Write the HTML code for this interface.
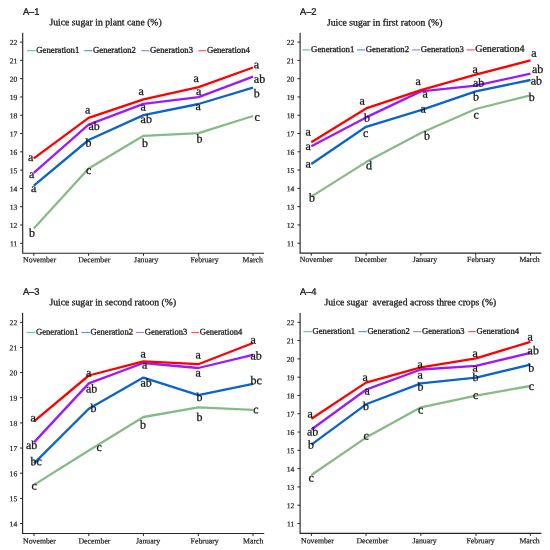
<!DOCTYPE html>
<html><head><meta charset="utf-8"><title>Juice sugar</title>
<style>html,body{margin:0;padding:0;background:#fff}svg{display:block}</style></head>
<body>
<svg width="550" height="550" viewBox="0 0 550 550" text-rendering="geometricPrecision">
<rect width="550" height="550" fill="#fff"/>
<g stroke="#262626" stroke-width="1.15" fill="none">
<path d="M22.7 32.7V253.2H264"/>
<path d="M20.10 42.10H22.7M20.10 60.39H22.7M20.10 78.68H22.7M20.10 96.97H22.7M20.10 115.26H22.7M20.10 133.55H22.7M20.10 151.85H22.7M20.10 170.14H22.7M20.10 188.43H22.7M20.10 206.72H22.7M20.10 225.01H22.7M20.10 243.30H22.7M33.8 253.2v2.6M88.6 253.2v2.6M143.5 253.2v2.6M198.6 253.2v2.6M253.0 253.2v2.6" stroke-width="1"/>
</g>
<g font-family="'Liberation Serif', serif" font-size="8" fill="#1a1a1a" stroke="#1a1a1a" stroke-width="0.3">
<text transform="matrix(1 0.0005 0 1 17.30 45.10)" text-anchor="end" font-size="7.6" stroke-width="0.2">22</text>
<text transform="matrix(1 0.0005 0 1 17.30 63.39)" text-anchor="end" font-size="7.6" stroke-width="0.2">21</text>
<text transform="matrix(1 0.0005 0 1 17.30 81.68)" text-anchor="end" font-size="7.6" stroke-width="0.2">20</text>
<text transform="matrix(1 0.0005 0 1 17.30 99.97)" text-anchor="end" font-size="7.6" stroke-width="0.2">19</text>
<text transform="matrix(1 0.0005 0 1 17.30 118.26)" text-anchor="end" font-size="7.6" stroke-width="0.2">18</text>
<text transform="matrix(1 0.0005 0 1 17.30 136.55)" text-anchor="end" font-size="7.6" stroke-width="0.2">17</text>
<text transform="matrix(1 0.0005 0 1 17.30 154.85)" text-anchor="end" font-size="7.6" stroke-width="0.2">16</text>
<text transform="matrix(1 0.0005 0 1 17.30 173.14)" text-anchor="end" font-size="7.6" stroke-width="0.2">15</text>
<text transform="matrix(1 0.0005 0 1 17.30 191.43)" text-anchor="end" font-size="7.6" stroke-width="0.2">14</text>
<text transform="matrix(1 0.0005 0 1 17.30 209.72)" text-anchor="end" font-size="7.6" stroke-width="0.2">13</text>
<text transform="matrix(1 0.0005 0 1 17.30 228.01)" text-anchor="end" font-size="7.6" stroke-width="0.2">12</text>
<text transform="matrix(1 0.0005 0 1 17.30 246.30)" text-anchor="end" font-size="7.6" stroke-width="0.2">11</text>
<text transform="matrix(1 0.0005 0 1 23.10 262.30)" font-size="7.8" stroke-width="0.2">November</text>
<text transform="matrix(1 0.0005 0 1 78.20 262.30)" font-size="7.8" stroke-width="0.2">December</text>
<text transform="matrix(1 0.0005 0 1 134.10 262.30)" font-size="7.8" stroke-width="0.2">January</text>
<text transform="matrix(1 0.0005 0 1 190.40 262.30)" font-size="7.8" stroke-width="0.2">February</text>
<text transform="matrix(1 0.0005 0 1 242.50 262.30)" font-size="7.8" stroke-width="0.2">March</text>
</g>
<polyline points="33.8,228.5 88.6,168.4 143.5,135.8 198.6,133.2 253.0,116" fill="none" stroke="#86bb86" stroke-width="2.3" stroke-linejoin="round"/>
<polyline points="33.8,185.7 88.6,140 143.5,115.1 198.6,104.0 253.0,87.6" fill="none" stroke="#0b64cc" stroke-width="2.3" stroke-linejoin="round"/>
<polyline points="33.8,172.9 88.6,124.6 143.5,103.8 198.6,97.1 253.0,76.6" fill="none" stroke="#9a1aff" stroke-width="2.3" stroke-linejoin="round"/>
<polyline points="33.8,158.4 88.6,117.8 143.5,99.4 198.6,87.1 253.0,67.5" fill="none" stroke="#ff0000" stroke-width="2.3" stroke-linejoin="round"/>
<g font-family="'Liberation Serif', serif" fill="#1a1a1a" stroke-width="0.3">
<line x1="27.0" x2="35.6" y1="50.7" y2="50.7" stroke="#5ed197" stroke-width="1.2"/>
<text transform="matrix(1 0.0005 0 1 36.30 52.80)" font-size="8.7" stroke="#1a1a1a">Generation1</text>
<line x1="84.1" x2="92.3" y1="50.7" y2="50.7" stroke="#4f9ae6" stroke-width="1.2"/>
<text transform="matrix(1 0.0005 0 1 93.00 52.80)" font-size="8.7" stroke="#1a1a1a">Generation2</text>
<line x1="141.3" x2="149.4" y1="50.7" y2="50.7" stroke="#aa7fe3" stroke-width="1.2"/>
<text transform="matrix(1 0.0005 0 1 150.10 52.80)" font-size="8.7" stroke="#1a1a1a">Generation3</text>
<line x1="198.4" x2="206.2" y1="50.7" y2="50.7" stroke="#ff5555" stroke-width="1.2"/>
<text transform="matrix(1 0.0005 0 1 206.90 52.80)" font-size="8.7" stroke="#1a1a1a">Generation4</text>
</g>
<text transform="matrix(1 0.0005 0 1 49.50 25.30)" font-family="'Liberation Serif', serif" font-size="9.7" fill="#1a1a1a" stroke="#1a1a1a" stroke-width="0.3" xml:space="preserve">Juice sugar in plant cane (%)</text>
<text transform="matrix(1 0.0005 0 1 22.90 14.70)" font-family="'Liberation Sans', sans-serif" font-size="9.3" fill="#1a1a1a" stroke="#1a1a1a" stroke-width="0.3">A–1</text>
<g font-family="'Liberation Serif', serif" font-size="12" fill="#1a1a1a" stroke="#1a1a1a" stroke-width="0.3">
<text transform="matrix(1 0.0005 0 1 28.00 161.00)">a</text>
<text transform="matrix(1 0.0005 0 1 29.00 178.00)">a</text>
<text transform="matrix(1 0.0005 0 1 31.00 192.00)">a</text>
<text transform="matrix(1 0.0005 0 1 29.10 236.80)">b</text>
<text transform="matrix(1 0.0005 0 1 85.00 113.40)">a</text>
<text transform="matrix(1 0.0005 0 1 88.40 130.00)">ab</text>
<text transform="matrix(1 0.0005 0 1 85.60 146.40)">b</text>
<text transform="matrix(1 0.0005 0 1 86.00 174.00)">c</text>
<text transform="matrix(1 0.0005 0 1 138.60 95.00)">a</text>
<text transform="matrix(1 0.0005 0 1 140.60 110.40)">a</text>
<text transform="matrix(1 0.0005 0 1 140.60 123.00)">ab</text>
<text transform="matrix(1 0.0005 0 1 142.00 147.00)">b</text>
<text transform="matrix(1 0.0005 0 1 193.40 82.00)">a</text>
<text transform="matrix(1 0.0005 0 1 196.00 95.00)">a</text>
<text transform="matrix(1 0.0005 0 1 195.60 110.00)">a</text>
<text transform="matrix(1 0.0005 0 1 196.60 142.60)">b</text>
<text transform="matrix(1 0.0005 0 1 253.80 68.30)">a</text>
<text transform="matrix(1 0.0005 0 1 253.80 82.80)">ab</text>
<text transform="matrix(1 0.0005 0 1 253.80 97.20)">b</text>
<text transform="matrix(1 0.0005 0 1 254.50 120.70)">c</text>
</g>
<g stroke="#262626" stroke-width="1.15" fill="none">
<path d="M300.1 32.7V253.1H541.3"/>
<path d="M297.50 42.10H300.1M297.50 60.38H300.1M297.50 78.66H300.1M297.50 96.95H300.1M297.50 115.23H300.1M297.50 133.51H300.1M297.50 151.79H300.1M297.50 170.07H300.1M297.50 188.35H300.1M297.50 206.64H300.1M297.50 224.92H300.1M297.50 243.20H300.1M311.3 253.1v2.6M366.1 253.1v2.6M420.9 253.1v2.6M475.7 253.1v2.6M530.5 253.1v2.6" stroke-width="1"/>
</g>
<g font-family="'Liberation Serif', serif" font-size="8" fill="#1a1a1a" stroke="#1a1a1a" stroke-width="0.3">
<text transform="matrix(1 0.0005 0 1 294.40 45.10)" text-anchor="end" font-size="7.6" stroke-width="0.2">22</text>
<text transform="matrix(1 0.0005 0 1 294.40 63.38)" text-anchor="end" font-size="7.6" stroke-width="0.2">21</text>
<text transform="matrix(1 0.0005 0 1 294.40 81.66)" text-anchor="end" font-size="7.6" stroke-width="0.2">20</text>
<text transform="matrix(1 0.0005 0 1 294.40 99.95)" text-anchor="end" font-size="7.6" stroke-width="0.2">19</text>
<text transform="matrix(1 0.0005 0 1 294.40 118.23)" text-anchor="end" font-size="7.6" stroke-width="0.2">18</text>
<text transform="matrix(1 0.0005 0 1 294.40 136.51)" text-anchor="end" font-size="7.6" stroke-width="0.2">17</text>
<text transform="matrix(1 0.0005 0 1 294.40 154.79)" text-anchor="end" font-size="7.6" stroke-width="0.2">16</text>
<text transform="matrix(1 0.0005 0 1 294.40 173.07)" text-anchor="end" font-size="7.6" stroke-width="0.2">15</text>
<text transform="matrix(1 0.0005 0 1 294.40 191.35)" text-anchor="end" font-size="7.6" stroke-width="0.2">14</text>
<text transform="matrix(1 0.0005 0 1 294.40 209.64)" text-anchor="end" font-size="7.6" stroke-width="0.2">13</text>
<text transform="matrix(1 0.0005 0 1 294.40 227.92)" text-anchor="end" font-size="7.6" stroke-width="0.2">12</text>
<text transform="matrix(1 0.0005 0 1 294.40 246.20)" text-anchor="end" font-size="7.6" stroke-width="0.2">11</text>
<text transform="matrix(1 0.0005 0 1 299.80 262.00)" font-size="7.8" stroke-width="0.2">November</text>
<text transform="matrix(1 0.0005 0 1 354.70 262.00)" font-size="7.8" stroke-width="0.2">December</text>
<text transform="matrix(1 0.0005 0 1 412.80 262.00)" font-size="7.8" stroke-width="0.2">January</text>
<text transform="matrix(1 0.0005 0 1 467.10 262.00)" font-size="7.8" stroke-width="0.2">February</text>
<text transform="matrix(1 0.0005 0 1 519.40 262.00)" font-size="7.8" stroke-width="0.2">March</text>
</g>
<polyline points="311.3,196.6 366.1,162.1 420.9,133 475.7,109 530.5,95.3" fill="none" stroke="#86bb86" stroke-width="2.3" stroke-linejoin="round"/>
<polyline points="311.3,164 366.1,126.8 420.9,110.2 475.7,91.4 530.5,80" fill="none" stroke="#0b64cc" stroke-width="2.3" stroke-linejoin="round"/>
<polyline points="311.3,146.3 366.1,117.4 420.9,91.4 475.7,85.6 530.5,73.7" fill="none" stroke="#9a1aff" stroke-width="2.3" stroke-linejoin="round"/>
<polyline points="311.3,142.2 366.1,108.4 420.9,90.2 475.7,74.7 530.5,60.4" fill="none" stroke="#ff0000" stroke-width="2.3" stroke-linejoin="round"/>
<g font-family="'Liberation Serif', serif" fill="#1a1a1a" stroke-width="0.3">
<line x1="302.3" x2="310.4" y1="49.9" y2="49.9" stroke="#5ed197" stroke-width="1.2"/>
<text transform="matrix(1 0.0005 0 1 311.10 52.00)" font-size="8.75" stroke="#1a1a1a">Generation1</text>
<line x1="357" x2="365.1" y1="49.9" y2="49.9" stroke="#4f9ae6" stroke-width="1.2"/>
<text transform="matrix(1 0.0005 0 1 365.80 52.00)" font-size="8.75" stroke="#1a1a1a">Generation2</text>
<line x1="411.8" x2="420.0" y1="49.9" y2="49.9" stroke="#aa7fe3" stroke-width="1.2"/>
<text transform="matrix(1 0.0005 0 1 420.70 52.00)" font-size="8.75" stroke="#1a1a1a">Generation3</text>
<line x1="466.6" x2="474.5" y1="49.9" y2="49.9" stroke="#ff5555" stroke-width="1.2"/>
<text transform="matrix(1 0.0005 0 1 475.20 51.80)" font-size="10" stroke="#1a1a1a">Generation4</text>
</g>
<text transform="matrix(1 0.0005 0 1 327.00 25.40)" font-family="'Liberation Serif', serif" font-size="9.7" fill="#1a1a1a" stroke="#1a1a1a" stroke-width="0.3" xml:space="preserve">Juice sugar in first ratoon (%)</text>
<text transform="matrix(1 0.0005 0 1 300.00 14.70)" font-family="'Liberation Sans', sans-serif" font-size="9.3" fill="#1a1a1a" stroke="#1a1a1a" stroke-width="0.3">A–2</text>
<g font-family="'Liberation Serif', serif" font-size="12" fill="#1a1a1a" stroke="#1a1a1a" stroke-width="0.3">
<text transform="matrix(1 0.0005 0 1 305.40 135.60)">a</text>
<text transform="matrix(1 0.0005 0 1 305.40 150.00)">a</text>
<text transform="matrix(1 0.0005 0 1 305.40 167.60)">a</text>
<text transform="matrix(1 0.0005 0 1 309.00 201.40)">b</text>
<text transform="matrix(1 0.0005 0 1 359.60 104.60)">a</text>
<text transform="matrix(1 0.0005 0 1 364.00 121.40)">b</text>
<text transform="matrix(1 0.0005 0 1 363.00 137.00)">c</text>
<text transform="matrix(1 0.0005 0 1 366.00 169.20)">d</text>
<text transform="matrix(1 0.0005 0 1 415.60 85.00)">a</text>
<text transform="matrix(1 0.0005 0 1 422.60 97.60)">a</text>
<text transform="matrix(1 0.0005 0 1 420.40 112.40)">a</text>
<text transform="matrix(1 0.0005 0 1 424.00 139.40)">b</text>
<text transform="matrix(1 0.0005 0 1 472.60 73.00)">a</text>
<text transform="matrix(1 0.0005 0 1 473.00 86.40)">ab</text>
<text transform="matrix(1 0.0005 0 1 473.00 100.60)">b</text>
<text transform="matrix(1 0.0005 0 1 473.60 118.40)">c</text>
<text transform="matrix(1 0.0005 0 1 531.20 56.80)">a</text>
<text transform="matrix(1 0.0005 0 1 532.00 72.90)">ab</text>
<text transform="matrix(1 0.0005 0 1 530.70 84.60)">ab</text>
<text transform="matrix(1 0.0005 0 1 528.70 101.00)">b</text>
</g>
<g stroke="#262626" stroke-width="1.15" fill="none">
<path d="M22.6 312.8V533.5H264.2"/>
<path d="M20.00 322.30H22.6M20.00 347.45H22.6M20.00 372.60H22.6M20.00 397.75H22.6M20.00 422.90H22.6M20.00 448.05H22.6M20.00 473.20H22.6M20.00 498.35H22.6M20.00 523.50H22.6M34 533.5v2.6M88.8 533.5v2.6M143.4 533.5v2.6M198.3 533.5v2.6M253 533.5v2.6" stroke-width="1"/>
</g>
<g font-family="'Liberation Serif', serif" font-size="8" fill="#1a1a1a" stroke="#1a1a1a" stroke-width="0.3">
<text transform="matrix(1 0.0005 0 1 17.20 325.30)" text-anchor="end" font-size="7.6" stroke-width="0.2">22</text>
<text transform="matrix(1 0.0005 0 1 17.20 350.45)" text-anchor="end" font-size="7.6" stroke-width="0.2">21</text>
<text transform="matrix(1 0.0005 0 1 17.20 375.60)" text-anchor="end" font-size="7.6" stroke-width="0.2">20</text>
<text transform="matrix(1 0.0005 0 1 17.20 400.75)" text-anchor="end" font-size="7.6" stroke-width="0.2">19</text>
<text transform="matrix(1 0.0005 0 1 17.20 425.90)" text-anchor="end" font-size="7.6" stroke-width="0.2">18</text>
<text transform="matrix(1 0.0005 0 1 17.20 451.05)" text-anchor="end" font-size="7.6" stroke-width="0.2">17</text>
<text transform="matrix(1 0.0005 0 1 17.20 476.20)" text-anchor="end" font-size="7.6" stroke-width="0.2">16</text>
<text transform="matrix(1 0.0005 0 1 17.20 501.35)" text-anchor="end" font-size="7.6" stroke-width="0.2">15</text>
<text transform="matrix(1 0.0005 0 1 17.20 526.50)" text-anchor="end" font-size="7.6" stroke-width="0.2">14</text>
<text transform="matrix(1 0.0005 0 1 23.00 543.60)" font-size="7.8" stroke-width="0.2">November</text>
<text transform="matrix(1 0.0005 0 1 78.40 543.60)" font-size="7.8" stroke-width="0.2">December</text>
<text transform="matrix(1 0.0005 0 1 135.90 543.60)" font-size="7.8" stroke-width="0.2">January</text>
<text transform="matrix(1 0.0005 0 1 190.60 543.60)" font-size="7.8" stroke-width="0.2">February</text>
<text transform="matrix(1 0.0005 0 1 243.00 543.60)" font-size="7.8" stroke-width="0.2">March</text>
</g>
<polyline points="34,484.9 88.8,450.5 143.4,417 198.3,407.3 253,409.8" fill="none" stroke="#86bb86" stroke-width="2.3" stroke-linejoin="round"/>
<polyline points="34,463.4 88.8,408.7 143.4,377.6 198.3,395.2 253,383.8" fill="none" stroke="#0b64cc" stroke-width="2.3" stroke-linejoin="round"/>
<polyline points="34,442.4 88.8,383.4 143.4,363 198.3,368 253,354.8" fill="none" stroke="#9a1aff" stroke-width="2.3" stroke-linejoin="round"/>
<polyline points="34,421.4 88.8,375.5 143.4,361.4 198.3,364.2 253,343" fill="none" stroke="#ff0000" stroke-width="2.3" stroke-linejoin="round"/>
<g font-family="'Liberation Serif', serif" fill="#1a1a1a" stroke-width="0.3">
<line x1="26.4" x2="35.3" y1="332.5" y2="332.5" stroke="#5ed197" stroke-width="1.2"/>
<text transform="matrix(1 0.0005 0 1 36.00 334.60)" font-size="8.6" stroke="#1a1a1a">Generation1</text>
<line x1="81.6" x2="89.8" y1="332.5" y2="332.5" stroke="#4f9ae6" stroke-width="1.2"/>
<text transform="matrix(1 0.0005 0 1 90.50 334.60)" font-size="8.6" stroke="#1a1a1a">Generation2</text>
<line x1="136" x2="144.1" y1="332.5" y2="332.5" stroke="#aa7fe3" stroke-width="1.2"/>
<text transform="matrix(1 0.0005 0 1 144.80 334.60)" font-size="8.6" stroke="#1a1a1a">Generation3</text>
<line x1="191.3" x2="199.1" y1="332.5" y2="332.5" stroke="#ff5555" stroke-width="1.2"/>
<text transform="matrix(1 0.0005 0 1 199.80 334.60)" font-size="8.6" stroke="#1a1a1a">Generation4</text>
</g>
<text transform="matrix(1 0.0005 0 1 49.40 305.20)" font-family="'Liberation Serif', serif" font-size="9.7" fill="#1a1a1a" stroke="#1a1a1a" stroke-width="0.3" xml:space="preserve">Juice sugar in second ratoon (%)</text>
<text transform="matrix(1 0.0005 0 1 22.90 294.70)" font-family="'Liberation Sans', sans-serif" font-size="9.3" fill="#1a1a1a" stroke="#1a1a1a" stroke-width="0.3">A–3</text>
<g font-family="'Liberation Serif', serif" font-size="12" fill="#1a1a1a" stroke="#1a1a1a" stroke-width="0.3">
<text transform="matrix(1 0.0005 0 1 30.60 421.60)">a</text>
<text transform="matrix(1 0.0005 0 1 26.00 449.00)">ab</text>
<text transform="matrix(1 0.0005 0 1 30.60 465.20)">bc</text>
<text transform="matrix(1 0.0005 0 1 31.40 489.40)">c</text>
<text transform="matrix(1 0.0005 0 1 86.00 376.50)">a</text>
<text transform="matrix(1 0.0005 0 1 86.00 392.50)">ab</text>
<text transform="matrix(1 0.0005 0 1 90.60 411.90)">b</text>
<text transform="matrix(1 0.0005 0 1 96.40 451.00)">c</text>
<text transform="matrix(1 0.0005 0 1 140.40 357.40)">a</text>
<text transform="matrix(1 0.0005 0 1 142.00 368.40)">a</text>
<text transform="matrix(1 0.0005 0 1 140.40 386.60)">ab</text>
<text transform="matrix(1 0.0005 0 1 140.00 428.40)">b</text>
<text transform="matrix(1 0.0005 0 1 195.60 358.60)">a</text>
<text transform="matrix(1 0.0005 0 1 195.60 376.40)">a</text>
<text transform="matrix(1 0.0005 0 1 196.60 401.00)">b</text>
<text transform="matrix(1 0.0005 0 1 196.60 421.00)">b</text>
<text transform="matrix(1 0.0005 0 1 250.50 343.60)">a</text>
<text transform="matrix(1 0.0005 0 1 250.50 359.50)">ab</text>
<text transform="matrix(1 0.0005 0 1 250.50 384.20)">bc</text>
<text transform="matrix(1 0.0005 0 1 253.20 413.30)">c</text>
</g>
<g stroke="#262626" stroke-width="1.15" fill="none">
<path d="M300.1 313V533.3H541.3"/>
<path d="M297.50 322.30H300.1M297.50 340.59H300.1M297.50 358.88H300.1M297.50 377.17H300.1M297.50 395.46H300.1M297.50 413.75H300.1M297.50 432.05H300.1M297.50 450.34H300.1M297.50 468.63H300.1M297.50 486.92H300.1M297.50 505.21H300.1M297.50 523.50H300.1M311.4 533.3v2.6M366 533.3v2.6M420.9 533.3v2.6M476.0 533.3v2.6M530.4 533.3v2.6" stroke-width="1"/>
</g>
<g font-family="'Liberation Serif', serif" font-size="8" fill="#1a1a1a" stroke="#1a1a1a" stroke-width="0.3">
<text transform="matrix(1 0.0005 0 1 294.40 325.30)" text-anchor="end" font-size="7.6" stroke-width="0.2">22</text>
<text transform="matrix(1 0.0005 0 1 294.40 343.59)" text-anchor="end" font-size="7.6" stroke-width="0.2">21</text>
<text transform="matrix(1 0.0005 0 1 294.40 361.88)" text-anchor="end" font-size="7.6" stroke-width="0.2">20</text>
<text transform="matrix(1 0.0005 0 1 294.40 380.17)" text-anchor="end" font-size="7.6" stroke-width="0.2">19</text>
<text transform="matrix(1 0.0005 0 1 294.40 398.46)" text-anchor="end" font-size="7.6" stroke-width="0.2">18</text>
<text transform="matrix(1 0.0005 0 1 294.40 416.75)" text-anchor="end" font-size="7.6" stroke-width="0.2">17</text>
<text transform="matrix(1 0.0005 0 1 294.40 435.05)" text-anchor="end" font-size="7.6" stroke-width="0.2">16</text>
<text transform="matrix(1 0.0005 0 1 294.40 453.34)" text-anchor="end" font-size="7.6" stroke-width="0.2">15</text>
<text transform="matrix(1 0.0005 0 1 294.40 471.63)" text-anchor="end" font-size="7.6" stroke-width="0.2">14</text>
<text transform="matrix(1 0.0005 0 1 294.40 489.92)" text-anchor="end" font-size="7.6" stroke-width="0.2">13</text>
<text transform="matrix(1 0.0005 0 1 294.40 508.21)" text-anchor="end" font-size="7.6" stroke-width="0.2">12</text>
<text transform="matrix(1 0.0005 0 1 294.40 526.50)" text-anchor="end" font-size="7.6" stroke-width="0.2">11</text>
<text transform="matrix(1 0.0005 0 1 301.00 543.30)" font-size="7.8" stroke-width="0.2">November</text>
<text transform="matrix(1 0.0005 0 1 356.40 543.30)" font-size="7.8" stroke-width="0.2">December</text>
<text transform="matrix(1 0.0005 0 1 412.40 543.30)" font-size="7.8" stroke-width="0.2">January</text>
<text transform="matrix(1 0.0005 0 1 466.50 543.30)" font-size="7.8" stroke-width="0.2">February</text>
<text transform="matrix(1 0.0005 0 1 519.40 543.30)" font-size="7.8" stroke-width="0.2">March</text>
</g>
<polyline points="311.4,475 366,437.6 420.9,407.3 476.0,395.6 530.4,386" fill="none" stroke="#86bb86" stroke-width="2.3" stroke-linejoin="round"/>
<polyline points="311.4,444.7 366,404.3 420.9,383.4 476.0,377.7 530.4,364.6" fill="none" stroke="#0b64cc" stroke-width="2.3" stroke-linejoin="round"/>
<polyline points="311.4,429.5 366,389.7 420.9,369.5 476.0,365.9 530.4,352.8" fill="none" stroke="#9a1aff" stroke-width="2.3" stroke-linejoin="round"/>
<polyline points="311.4,418.7 366,382.6 420.9,367.4 476.0,358.3 530.4,341.9" fill="none" stroke="#ff0000" stroke-width="2.3" stroke-linejoin="round"/>
<g font-family="'Liberation Serif', serif" fill="#1a1a1a" stroke-width="0.3">
<line x1="303.4" x2="311.9" y1="331.6" y2="331.6" stroke="#5ed197" stroke-width="1.2"/>
<text transform="matrix(1 0.0005 0 1 312.60 333.70)" font-size="8.6" stroke="#1a1a1a">Generation1</text>
<line x1="358.4" x2="366.7" y1="331.6" y2="331.6" stroke="#4f9ae6" stroke-width="1.2"/>
<text transform="matrix(1 0.0005 0 1 367.40 333.70)" font-size="8.6" stroke="#1a1a1a">Generation2</text>
<line x1="413.2" x2="421.3" y1="331.6" y2="331.6" stroke="#aa7fe3" stroke-width="1.2"/>
<text transform="matrix(1 0.0005 0 1 422.00 333.70)" font-size="8.6" stroke="#1a1a1a">Generation3</text>
<line x1="468.2" x2="475.8" y1="331.6" y2="331.6" stroke="#ff5555" stroke-width="1.2"/>
<text transform="matrix(1 0.0005 0 1 476.50 333.70)" font-size="8.6" stroke="#1a1a1a">Generation4</text>
</g>
<text transform="matrix(1 0.0005 0 1 324.40 305.20)" font-family="'Liberation Serif', serif" font-size="9.7" fill="#1a1a1a" stroke="#1a1a1a" stroke-width="0.3" xml:space="preserve">Juice sugar  averaged across three crops (%)</text>
<text transform="matrix(1 0.0005 0 1 300.00 294.70)" font-family="'Liberation Sans', sans-serif" font-size="9.3" fill="#1a1a1a" stroke="#1a1a1a" stroke-width="0.3">A–4</text>
<g font-family="'Liberation Serif', serif" font-size="12" fill="#1a1a1a" stroke="#1a1a1a" stroke-width="0.3">
<text transform="matrix(1 0.0005 0 1 307.60 417.60)">a</text>
<text transform="matrix(1 0.0005 0 1 307.00 435.40)">ab</text>
<text transform="matrix(1 0.0005 0 1 308.00 448.60)">b</text>
<text transform="matrix(1 0.0005 0 1 308.60 481.40)">c</text>
<text transform="matrix(1 0.0005 0 1 362.60 381.00)">a</text>
<text transform="matrix(1 0.0005 0 1 364.60 394.40)">a</text>
<text transform="matrix(1 0.0005 0 1 363.00 410.00)">b</text>
<text transform="matrix(1 0.0005 0 1 363.60 439.40)">c</text>
<text transform="matrix(1 0.0005 0 1 417.60 368.00)">a</text>
<text transform="matrix(1 0.0005 0 1 417.60 378.60)">a</text>
<text transform="matrix(1 0.0005 0 1 417.60 390.60)">b</text>
<text transform="matrix(1 0.0005 0 1 418.00 413.60)">c</text>
<text transform="matrix(1 0.0005 0 1 472.60 357.00)">a</text>
<text transform="matrix(1 0.0005 0 1 472.60 371.60)">a</text>
<text transform="matrix(1 0.0005 0 1 472.60 381.00)">b</text>
<text transform="matrix(1 0.0005 0 1 473.00 399.00)">c</text>
<text transform="matrix(1 0.0005 0 1 527.60 340.40)">a</text>
<text transform="matrix(1 0.0005 0 1 527.60 354.20)">ab</text>
<text transform="matrix(1 0.0005 0 1 528.20 371.80)">b</text>
<text transform="matrix(1 0.0005 0 1 528.70 390.00)">c</text>
</g>
</svg>
</body></html>
